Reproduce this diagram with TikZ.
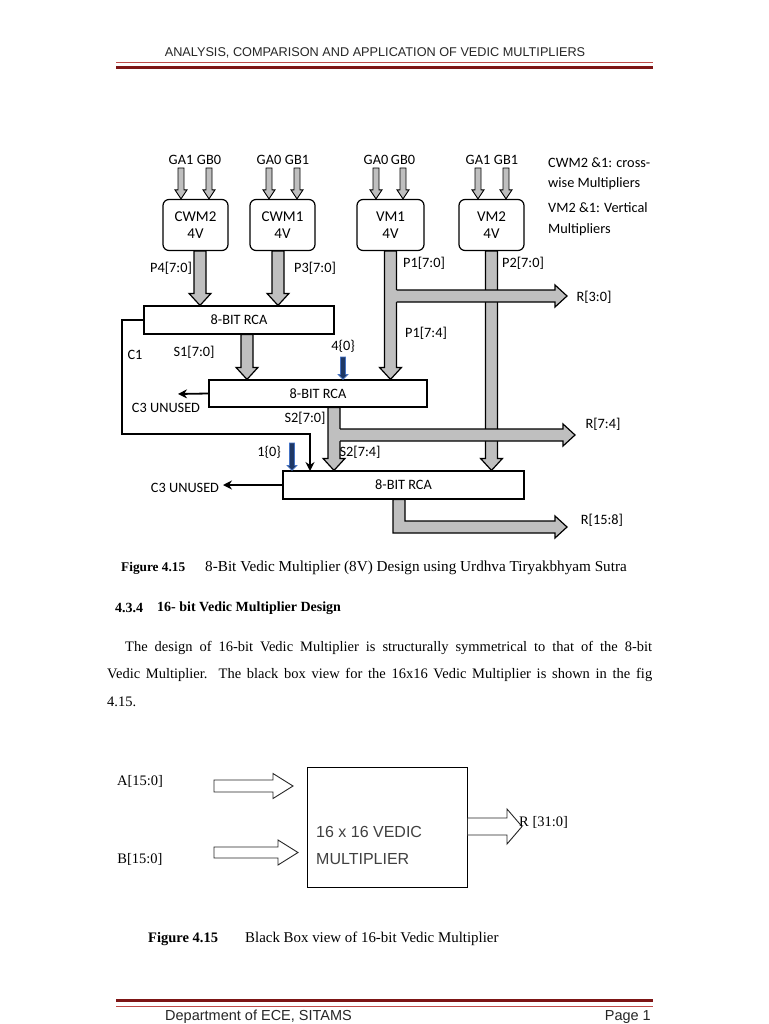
\documentclass[tikz,border=0pt]{standalone}
\usepackage{fontspec}
\setmainfont{Liberation Serif}
\newfontfamily\calib{Carlito}
\newfontfamily\hdr{Liberation Sans}
\usepackage{tikz}
\usetikzlibrary{arrows.meta}
\usetikzlibrary{calc}
\definecolor{busgray}{RGB}{191,191,191}
\definecolor{linered}{RGB}{190,75,72}
\definecolor{linedark}{RGB}{125,22,22}
\definecolor{navyarrow}{RGB}{31,56,100}
\definecolor{navyedge}{RGB}{68,114,196}
\tikzset{
  lbl/.style = {font=\calib\fontsize{14.3}{16}\selectfont, inner sep=0pt},
  mulbox/.style = {draw, line width=1.2pt, rounded corners=6pt, fill=white,
    minimum width=65pt, minimum height=51pt, align=center,
    font=\calib\fontsize{15}{17}\selectfont},% multiplier block
  rcabox/.style = {draw, line width=1.2pt, fill=white, minimum height=28pt,
    font=\calib\fontsize{14.3}{16}\selectfont},% ripple carry adder
  busfill/.style = {fill=busgray},
  busline/.style = {draw=black, line width=1.2pt, line join=miter},
  bus/.style = {busfill, busline},
  pin/.style = {fill=busgray, draw=black, line width=0.9pt},
  tie/.style = {fill=navyarrow, draw=navyedge, line width=0.6pt},
  wire/.style = {draw, line width=1.8pt, -{Stealth[length=9pt,width=9pt]}},
  hollow/.style = {draw=black!85, line width=0.9pt, fill=white},
  serif/.style = {font=\fontsize{14.5}{17}\selectfont, inner sep=0pt}
}
% vertical bus: style, start, end (only y used), half width, half head, head length
\newcommand{\vbus}[6]{%
  \path[#1] let \p1=(#2), \p2=(#3) in
    (\x1-#4,\y1) -- (\x1-#4,\y2+#6) -- (\x1-#5,\y2+#6) -- (\x1,\y2)
    -- (\x1+#5,\y2+#6) -- (\x1+#4,\y2+#6) -- (\x1+#4,\y1) -- cycle;}
% horizontal branch leaving a vertical bus
\newcommand{\hbus}[2]{%
  \path[busfill] let \p1=(#1), \p2=(#2) in
    (\x1,\y1+6pt) -- (\x2-12pt,\y1+6pt) -- (\x2-12pt,\y1+11pt) -- (\x2,\y1)
    -- (\x2-12pt,\y1-11pt) -- (\x2-12pt,\y1-6pt) -- (\x1,\y1-6pt) -- cycle;
  \path[busline] let \p1=(#1), \p2=(#2) in
    (\x1+6pt,\y1+6pt) -- (\x2-12pt,\y1+6pt) -- (\x2-12pt,\y1+11pt) -- (\x2,\y1)
    -- (\x2-12pt,\y1-11pt) -- (\x2-12pt,\y1-6pt) -- (\x1+6pt,\y1-6pt);}
% block arrow: style, start, tip (only x used), half width, half head, head length
\newcommand{\fatarrow}[6]{%
  \path[#1] let \p1=(#2), \p2=(#3) in
    (\x1,\y1+#4) -- (\x2-#6,\y1+#4) -- (\x2-#6,\y1+#5) -- (\x2,\y1)
    -- (\x2-#6,\y1-#5) -- (\x2-#6,\y1-#4) -- (\x1,\y1-#4) -- cycle;}

\begin{document}
\begin{tikzpicture}[x=1pt,y=-1pt]
\useasboundingbox (0,0) rectangle (768,1024);
\fill[white] (0,0) rectangle (768,1024);

% page header and footer
\node[font=\hdr\fontsize{12.7}{15}\selectfont, text=black!85, inner sep=0pt] (hdr) at (375,53)
  {ANALYSIS, COMPARISON AND APPLICATION OF VEDIC MULTIPLIERS};
\draw[linered, line width=1pt] (116,63) -- (653,63);
\draw[linedark, line width=3pt] (116,67.5) -- (653,67.5);
\draw[linedark, line width=3pt] (116,1000) -- (653,1000);
\draw[linered, line width=1pt] (116,1006) -- (653,1006);
\node[font=\hdr\fontsize{14.5}{17}\selectfont, text=black!85, inner sep=0pt, anchor=west] (dept) at (165,1017) {Department of ECE, SITAMS};
\node[font=\hdr\fontsize{14.5}{17}\selectfont, text=black!85, inner sep=0pt, anchor=east] (pg) at (651,1017) {Page 1};

% multiplier blocks
\node[mulbox] (cwm2) at (195.5,225) {CWM2\\4V};
\node[mulbox] (cwm1) at (282.5,225) {CWM1\\4V};
\node[mulbox, minimum width=67pt] (vm1) at (390.5,225) {VM1\\4V};
\node[mulbox] (vm2) at (491.5,225) {VM2\\4V};

\foreach \px/\t/\b in {181/GA1/cwm2, 209/GB0/cwm2, 269/GA0/cwm1, 297/GB1/cwm1,
  376/GA0/vm1, 403/GB0/vm1, 478/GA1/vm2, 506/GB1/vm2} {
  \node[lbl] (in-\px) at (\px,160) {\t};
  \vbus{pin}{\px,168}{\b.north}{3pt}{6pt}{9pt}
}

\node[lbl, anchor=west] (note1) at (548,163) {CWM2 \&1: cross-};
\node[lbl, anchor=west] (note2) at (548,184) {wise Multipliers};
\node[lbl, anchor=west] (note3) at (548,208) {VM2 \&1: Vertical};
\node[lbl, anchor=west] (note4) at (548,230) {Multipliers};

% adders
\node[rcabox, minimum width=190pt] (rca1) at (239,320) {8-BIT RCA};
\node[rcabox, minimum width=218pt, minimum height=27pt] (rca2) at (318,393.5) {8-BIT RCA};
\node[rcabox, minimum width=241pt] (rca3) at (403.5,485) {8-BIT RCA};

% buses
\vbus{bus}{[xshift=4.5pt]cwm2.south}{rca1.north}{6pt}{11pt}{12pt}
\vbus{bus}{[xshift=-4.5pt]cwm1.south}{rca1.north}{6pt}{11pt}{12pt}
\vbus{bus}{[xshift=8pt]rca1.south}{rca2.north}{6pt}{11pt}{12pt}
\vbus{bus}{vm2.south}{rca3.north}{6pt}{11pt}{12pt}
\vbus{bus}{vm1.south}{rca2.north}{6pt}{11pt}{12pt}
\vbus{bus}{[xshift=16pt]rca2.south}{rca3.north}{6pt}{11pt}{12pt}
\coordinate (tap1) at (390.5,296);
\coordinate (r30) at (567,296);
\hbus{tap1}{r30}
\coordinate (tap2) at (334,435);
\coordinate (r74) at (575,435);
\hbus{tap2}{r74}
\path[bus] (rca3.south -| 393,0) -- (393,533) -- (555,533) -- (555,538) -- (567,527)
  -- (555,516) -- (555,521) -- (405,521) -- (rca3.south -| 405,0) -- cycle;

% constant inputs
\coordinate (t4) at (343,357);
\coordinate (t1) at (292,443);
\vbus{tie}{t4}{rca2.north}{2.5pt}{5pt}{5pt}
\vbus{tie}{t1}{rca3.north}{2.5pt}{5pt}{5pt}

% carries
\coordinate (c1turn) at (122,434);
\coordinate (c1in) at (310,471);
\draw[wire] (rca1.west) -| (c1turn) -| (c1in);
\coordinate (c3a) at (178,394);
\coordinate (c3b) at (223,485);
\draw[wire] (rca2.west) -- (c3a);
\draw[wire] (rca3.west) -- (c3b);

% bus labels
\node[lbl] (lp4) at (171,268) {P4[7:0]};
\node[lbl] (lp3) at (315,268) {P3[7:0]};
\node[lbl] (lp1) at (424,263) {P1[7:0]};
\node[lbl] (lp2) at (523,263) {P2[7:0]};
\node[lbl] (lr30) at (594,297) {R[3:0]};
\node[lbl] (lp1b) at (426,333) {P1[7:4]};
\node[lbl] (lc1) at (135,355) {C1};
\node[lbl] (ls1) at (194,352) {S1[7:0]};
\node[lbl] (l40) at (343,346) {4\{0\}};
\node[lbl] (lc3a) at (166,408) {C3 UNUSED};
\node[lbl] (ls2) at (305,418) {S2[7:0]};
\node[lbl] (lr74) at (603,424) {R[7:4]};
\node[lbl] (l10) at (269,452) {1\{0\}};
\node[lbl] (ls2b) at (360,452) {S2[7:4]};
\node[lbl] (lc3b) at (185,488) {C3 UNUSED};
\node[lbl] (lr158) at (602,520) {R[15:8]};

% captions and text
\node[font=\bfseries\fontsize{13.3}{16}\selectfont, inner sep=0pt, anchor=west] (cap1a) at (121,568) {Figure 4.15};
\node[font=\fontsize{15.2}{18}\selectfont, inner sep=0pt, anchor=west] (cap1b) at (205,568) {8-Bit Vedic Multiplier (8V) Design using Urdhva Tiryakbhyam Sutra};
\node[font=\bfseries\fontsize{14}{17}\selectfont, inner sep=0pt, anchor=west] (sec) at (115,608) {4.3.4};
\node[font=\bfseries\fontsize{14}{17}\selectfont, inner sep=0pt, anchor=west] (sectitle) at (157,608) {16- bit Vedic Multiplier Design};
\node[serif, anchor=west] (para1) at (125,648) {\makebox[527pt][s]{The design of 16-bit Vedic Multiplier is structurally symmetrical to that of the 8-bit}};
\node[serif, anchor=west] (para2) at (107,675) {\makebox[545pt][s]{Vedic Multiplier. The black box view for the 16x16 Vedic Multiplier is shown in the fig}};
\node[serif, anchor=west] (para3) at (107,702) {4.15.};

% black box view
\node[draw, line width=0.9pt, minimum width=160pt, minimum height=120pt, inner sep=0pt] (vbox) at (387,827) {};
\node[font=\hdr\fontsize{16}{27}\selectfont, text=black!75, align=left, anchor=west, inner sep=0pt] (vtxt) at (316,845.5) {16 x 16 VEDIC\\MULTIPLIER};
\node[serif] (ain) at (140,781) {A[15:0]};
\node[serif] (bin) at (140,859) {B[15:0]};
\coordinate (a0) at (214,786);
\coordinate (a1) at (293,786);
\coordinate (b0) at (214,852.5);
\coordinate (b1) at (298,852.5);
\coordinate (r0) at (vbox.east |- 0,826.5);
\coordinate (r1) at (522,826.5);
\fatarrow{hollow}{a0}{a1}{6pt}{12.5pt}{20pt}
\fatarrow{hollow}{b0}{b1}{5.5pt}{12.5pt}{20pt}
\fatarrow{hollow}{r0}{r1}{8.5pt}{17.5pt}{15pt}
\node[serif, anchor=west] (rout) at (519,822) {R [31:0]};

\node[font=\bfseries\fontsize{14.5}{17}\selectfont, inner sep=0pt, anchor=west] (cap2a) at (148,939) {Figure 4.15};
\node[font=\fontsize{14.9}{17}\selectfont, inner sep=0pt, anchor=west] (cap2b) at (245,939) {Black Box view of 16-bit Vedic Multiplier};
\end{tikzpicture}
\end{document}
